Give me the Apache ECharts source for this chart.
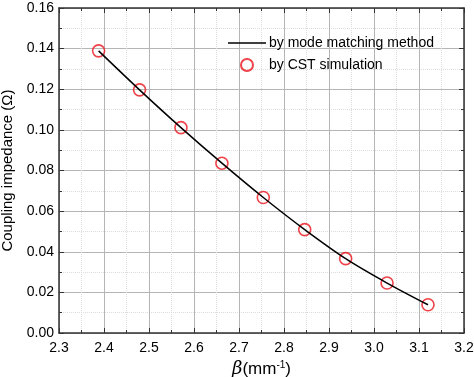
<!DOCTYPE html>
<html>
<head>
<meta charset="utf-8">
<script src="https://cdn.jsdelivr.net/npm/echarts@6/dist/echarts.min.js"></script>
<style>
  html, body { margin: 0; padding: 0; background: #fff; }
  #chart { width: 474px; height: 377px; }
</style>
</head>
<body>
<div id="chart"></div>
<script>
// 数据
const betaValues = [2.388, 2.479, 2.571, 2.662, 2.754, 2.846, 2.937, 3.029, 3.120];
const modeMatching = [0.1389, 0.1197, 0.1011, 0.0836, 0.0667, 0.0509, 0.0366, 0.0246, 0.0139];
const cstSimulation = [0.1389, 0.1197, 0.1011, 0.0836, 0.0667, 0.0509, 0.0366, 0.0246, 0.0139];
const seriesNames = ['by mode matching method', 'by CST simulation'];

const chart = echarts.init(document.getElementById('chart'));
const font = 'Liberation Sans, Arial, sans-serif';

const baseAxis = {
    axisLine: { show: true, onZero: false, lineStyle: { color: '#333', width: 1.5 } },
    axisTick: { show: true, inside: true, length: 5, lineStyle: { color: '#333' } },
    minorTick: { show: true, splitNumber: 2, length: 3, lineStyle: { color: '#333' } },
    splitLine: { show: true, lineStyle: { color: '#b5b5b5', width: 1 } },
    minorSplitLine: { show: true, lineStyle: { color: '#dcdcdc', type: 'dotted' } }
};

const option = {
    animation: false,
    grid: { left: 59, right: 10, top: 8, bottom: 44, outerBoundsMode: 'none' },
    legend: {
        orient: 'vertical',
        left: 223,
        top: 31,
        itemWidth: 38,
        itemHeight: 12,
        itemGap: 8,
        textStyle: { fontFamily: font, fontSize: 14, color: '#000', padding: [0, 0, 0, -2] },
        data: [
            { name: seriesNames[0], icon: 'path://M0,0 L40,0 L40,1.6 L0,1.6 Z' },
            { name: seriesNames[1] }
        ]
    },
    xAxis: [
        Object.assign({}, baseAxis, {
            type: 'value', min: 2.3, max: 3.2, interval: 0.1,
            name: '{b|β}(mm{s|-1})',
            nameLocation: 'middle',
            nameGap: 25,
            nameTextStyle: {
                fontFamily: font, fontSize: 17, color: '#000',
                rich: {
                    b: { fontFamily: 'DejaVu Serif, serif', fontStyle: 'italic', fontSize: 18, color: '#000' },
                    s: { fontSize: 10, verticalAlign: 'top', padding: [0, 0, 8, 0], color: '#000' }
                }
            },
            axisLabel: {
                fontFamily: font, fontSize: 14, color: '#000', margin: 8,
                formatter: v => v.toFixed(1)
            }
        }),
        Object.assign({}, baseAxis, {
            type: 'value', min: 2.3, max: 3.2, interval: 0.1, position: 'top',
            axisLabel: { show: false }, splitLine: { show: false }, minorSplitLine: { show: false }
        })
    ],
    yAxis: [
        Object.assign({}, baseAxis, {
            type: 'value', min: 0, max: 0.16, interval: 0.02,
            name: 'Coupling impedance (Ω)',
            nameLocation: 'middle',
            nameGap: 40,
            nameTextStyle: { fontFamily: font, fontSize: 15, color: '#000' },
            axisLabel: {
                fontFamily: font, fontSize: 14, color: '#000', margin: 5,
                formatter: v => v.toFixed(2)
            }
        }),
        Object.assign({}, baseAxis, {
            type: 'value', min: 0, max: 0.16, interval: 0.02, position: 'right',
            axisLabel: { show: false }, splitLine: { show: false }, minorSplitLine: { show: false }
        })
    ],
    series: [
        {
            name: seriesNames[0],
            type: 'line',
            smooth: 0.3,
            symbol: 'none',
            lineStyle: { color: '#000', width: 1.5 },
            itemStyle: { color: '#000' },
            data: betaValues.map((b, i) => [b, modeMatching[i]])
        },
        {
            name: seriesNames[1],
            type: 'scatter',
            symbol: 'circle',
            symbolSize: 12,
            itemStyle: { color: 'rgba(255,255,255,0)', borderColor: '#e8141c', borderWidth: 1.6 },
            data: betaValues.map((b, i) => [b, cstSimulation[i]])
        }
    ]
};

chart.setOption(option);
</script>
</body>
</html>
